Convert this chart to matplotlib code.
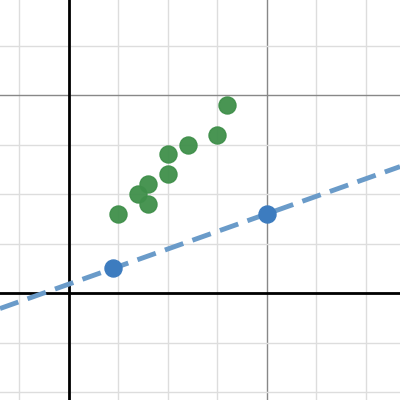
import matplotlib
matplotlib.use("Agg")
import matplotlib.pyplot as plt
import numpy as np

blue_x = [0.9, 4.0]
blue_y = [0.5, 1.6]
green_x = [1.0, 1.4, 1.6, 1.6, 2.0, 2.0, 2.4, 3.0, 3.2]
green_y = [1.6, 2.0, 2.2, 1.8, 2.4, 2.8, 3.0, 3.2, 3.8]

xmin, xmax = -1.39, 6.69
ymin, ymax = -2.16, 5.92

fig = plt.figure(figsize=(4, 4), dpi=100)
ax = fig.add_axes([0, 0, 1, 1])
ax.set_xlim(xmin, xmax)
ax.set_ylim(ymin, ymax)
for v in range(-1, 7):
    c = '#888888' if v % 4 == 0 else '#dddddd'
    ax.axvline(v, color=c, lw=1, zorder=0)
for v in range(-2, 6):
    c = '#888888' if v % 4 == 0 else '#dddddd'
    ax.axhline(v, color=c, lw=1, zorder=0)
ax.axhline(0, color='black', lw=2, zorder=1)
ax.axvline(0, color='black', lw=2, zorder=1)

m = (blue_y[1] - blue_y[0]) / (blue_x[1] - blue_x[0])
xs = np.array([xmin, xmax])
ax.plot(xs, blue_y[0] + m * (xs - blue_x[0]), '--', color='#6a9bc9', lw=3.5, dashes=(4, 2), zorder=2)
ax.scatter(blue_x, blue_y, s=150, color='#3d7cbf', zorder=3)
ax.scatter(green_x, green_y, s=150, color='#3f8f4a', alpha=0.95, zorder=3)
ax.set_xticks([]); ax.set_yticks([])
for s in ax.spines.values():
    s.set_visible(False)
fig.savefig("out.png", dpi=100)
